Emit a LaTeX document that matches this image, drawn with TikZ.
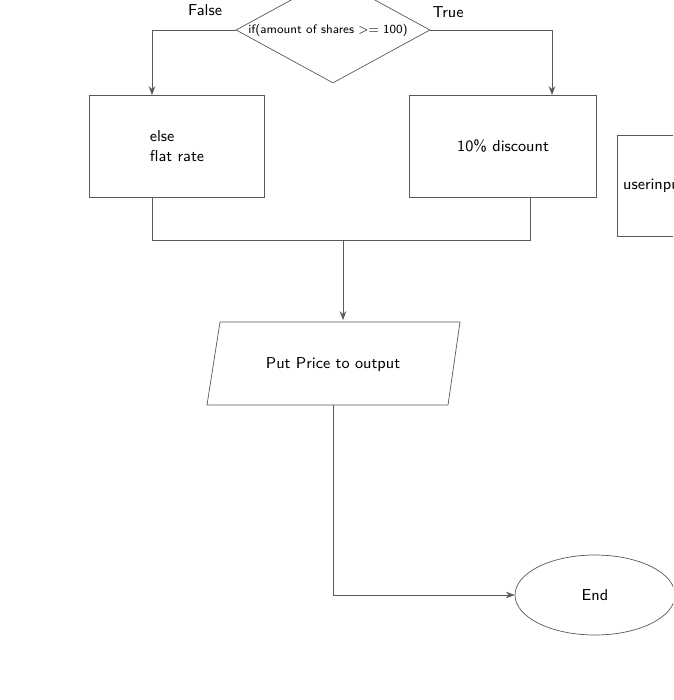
\documentclass[tikz,border=0pt]{standalone}
\usepackage{tikz}
\usetikzlibrary{shapes.geometric, arrows.meta}

\begin{document}
\begin{tikzpicture}[x=0.02cm, y=-0.02cm, font=\sffamily\small]
    \tikzset{box/.style={draw, rectangle, gray!70!black, text=black},
             line/.style={draw, gray!70!black}}
    \useasboundingbox (0,0) rectangle (673,700);
    \clip (0,0) rectangle (673,700);

    % decision
    \node[diamond, draw, gray!70!black, minimum width=3.88cm, minimum height=2.12cm, inner sep=0] (cond) at (333,30) {};
    \node[font=\sffamily\scriptsize] (condtxt) at (328,30) {if(amount of shares >= 100)};
    \node (lfalse) at (205,10) {False};
    \node (ltrue) at (448,12) {True};

    % branches
    \node[box, minimum width=3.5cm, minimum height=2.04cm, align=left] (flat) at (177,146) {else\\flat rate};
    \node[box, minimum width=3.74cm, minimum height=2.04cm] (disc) at (503,146) {10\% discount};
    \node[box, minimum width=1.6cm, minimum height=2.02cm, anchor=north west, text width=1.4cm] (user) at (617,135) {userinput};

    % output
    \coordinate (p1) at (220,322);
    \coordinate (p2) at (460,322);
    \coordinate (p3) at (448,405);
    \coordinate (p4) at (207,405);
    \draw[line] (p1) -- (p2) -- (p3) -- (p4) -- cycle;
    \node (out) at (333,365) {Put Price to output};

    \node[ellipse, draw, gray!70!black, text=black, minimum width=3.2cm, minimum height=1.6cm] (theend) at (595,595) {End};

    % connectors
    \coordinate (cl) at (152,30);
    \coordinate (cr) at (552,30);
    \draw[line, -{Stealth[length=5pt]}] (cond.west) -- (cl) -- (152,95);
    \draw[line, -{Stealth[length=5pt]}] (cond.east) -- (cr) -- (552,95);
    \coordinate (ml) at (152,240);
    \coordinate (mr) at (530,240);
    \draw[line] (152,197) -- (ml) -- (mr) -- (530,197);
    \draw[line, -{Stealth[length=5pt]}] (343,240) -- (343,320);
    \coordinate (bend) at (333,595);
    \draw[line, -{Stealth[length=5pt]}] (333,405) -- (bend) -- (theend.west);
\end{tikzpicture}
\end{document}
